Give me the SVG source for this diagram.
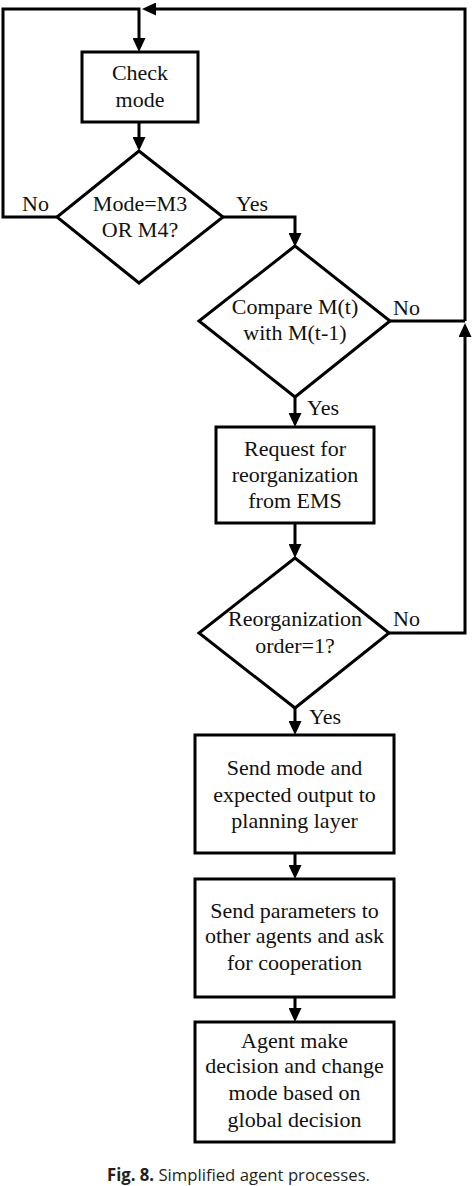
<svg xmlns="http://www.w3.org/2000/svg" width="474" height="1186" viewBox="0 0 474 1186">
  <style>
    .shape { fill: #ffffff; stroke: #000000; stroke-width: 3; }
    .conn { fill: none; stroke: #000000; stroke-width: 3; }
    .lbl { font-family: "Liberation Serif", "Times New Roman", serif; font-size: 22px; fill: #111111; text-anchor: middle; }
    .side { font-family: "Liberation Serif", "Times New Roman", serif; font-size: 22px; fill: #111111; }
    .cap { font-family: "Open Sans", "Noto Sans", sans-serif; font-size: 17px; fill: #231f20; }
  </style>
  <defs>
    <marker id="ah" markerWidth="14" markerHeight="13" refX="10" refY="6.5" orient="auto" markerUnits="userSpaceOnUse">
      <path d="M0,0 L14,6.5 L0,13 Z" fill="#000000"/>
    </marker>
  </defs>
  <rect width="474" height="1186" fill="#ffffff"/>

  <g id="connectors">
    <!-- No loop from first decision back to top -->
    <path class="conn" d="M57,217 H3 V9 H139 V48" marker-end="url(#ah)"/>
    <!-- Yes from first decision to compare -->
    <path class="conn" d="M223,217 H295 V243" marker-end="url(#ah)"/>
    <!-- No from compare joins right loop -->
    <path class="conn" d="M390,321 H465"/>
    <!-- right return line to top -->
    <path class="conn" d="M465,321 V9 H146" marker-end="url(#ah)"/>
    <!-- No from reorganization order up to junction -->
    <path class="conn" d="M389,633 H465 V327" marker-end="url(#ah)"/>
    <!-- check mode to decision 1 -->
    <path class="conn" d="M139,122 V147" marker-end="url(#ah)"/>
    <!-- compare yes to request -->
    <path class="conn" d="M295,397 V423" marker-end="url(#ah)"/>
    <!-- request to reorganization decision -->
    <path class="conn" d="M295,523 V554" marker-end="url(#ah)"/>
    <!-- yes to send mode -->
    <path class="conn" d="M295,708 V731" marker-end="url(#ah)"/>
    <!-- send mode to send parameters -->
    <path class="conn" d="M295,853 V875" marker-end="url(#ah)"/>
    <!-- send parameters to agent decision -->
    <path class="conn" d="M295,997 V1018" marker-end="url(#ah)"/>
    <text class="side" x="22" y="211">No</text>
    <text class="side" x="236" y="211">Yes</text>
    <text class="side" x="393" y="315">No</text>
    <text class="side" x="307" y="415">Yes</text>
    <text class="side" x="393" y="626">No</text>
    <text class="side" x="309" y="724">Yes</text>
  </g>

  <g id="check-mode">
    <rect class="shape" x="82" y="52" width="116" height="70"/>
    <text class="lbl" x="140" y="80">Check</text>
    <text class="lbl" x="140" y="107">mode</text>
  </g>

  <g id="decision-mode">
    <polygon class="shape" points="139,151 223,217 139,283 57,217"/>
    <text class="lbl" x="140" y="211">Mode=M3</text>
    <text class="lbl" x="140" y="237">OR M4?</text>
  </g>

  <g id="decision-compare">
    <polygon class="shape" points="295,246 390,321 295,397 199,321"/>
    <text class="lbl" x="295" y="314">Compare M(t)</text>
    <text class="lbl" x="295" y="340">with M(t-1)</text>
  </g>

  <g id="request">
    <rect class="shape" x="216" y="427" width="158" height="96"/>
    <text class="lbl" x="295" y="456">Request for</text>
    <text class="lbl" x="295" y="482">reorganization</text>
    <text class="lbl" x="295" y="508">from EMS</text>
  </g>

  <g id="decision-reorg">
    <polygon class="shape" points="295,558 389,633 295,708 199,633"/>
    <text class="lbl" x="295" y="626">Reorganization</text>
    <text class="lbl" x="295" y="653">order=1?</text>
  </g>

  <g id="send-mode">
    <rect class="shape" x="195" y="735" width="199" height="118"/>
    <text class="lbl" x="294.5" y="775">Send mode and</text>
    <text class="lbl" x="294.5" y="802">expected output to</text>
    <text class="lbl" x="294.5" y="828">planning layer</text>
  </g>

  <g id="send-parameters">
    <rect class="shape" x="195" y="879" width="199" height="118"/>
    <text class="lbl" x="294.5" y="918">Send parameters to</text>
    <text class="lbl" x="294.5" y="943">other agents and ask</text>
    <text class="lbl" x="294.5" y="970">for cooperation</text>
  </g>

  <g id="agent-decision">
    <rect class="shape" x="195" y="1022" width="199" height="120"/>
    <text class="lbl" x="294.5" y="1048">Agent make</text>
    <text class="lbl" x="294.5" y="1073">decision and change</text>
    <text class="lbl" x="294.5" y="1100">mode based on</text>
    <text class="lbl" x="294.5" y="1127">global decision</text>
  </g>

  <g id="caption">
    <text class="cap" x="107" y="1181" textLength="263" lengthAdjust="spacingAndGlyphs"><tspan font-weight="bold">Fig. 8.</tspan>  Simplified agent processes.</text>
  </g>
</svg>
